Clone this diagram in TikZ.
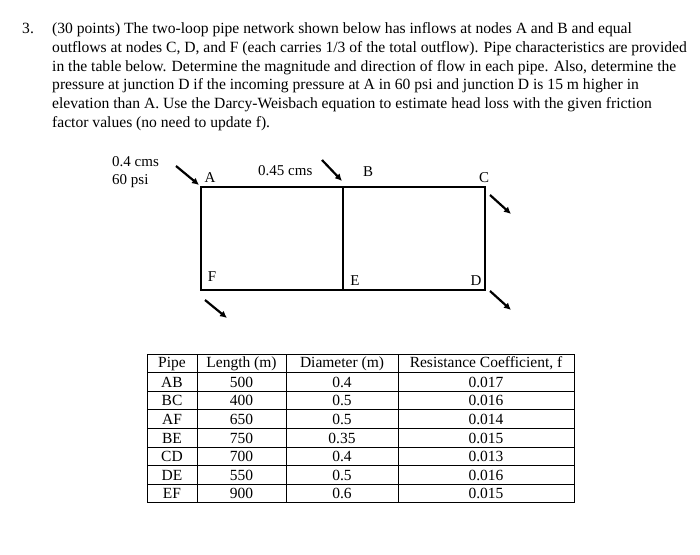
\documentclass[tikz,border=0pt]{standalone}
\usepackage{fontspec}
\setmainfont{Liberation Serif}
\usetikzlibrary{arrows.meta}
\begin{document}
\begin{tikzpicture}[x=1pt,y=-1pt,
  txt/.style={anchor=base west,inner sep=0pt,font=\fontsize{15.6}{17}\selectfont},
  lbl/.style={inner sep=0pt,font=\fontsize{15}{17}\selectfont},
  cell/.style={inner sep=0pt,font=\fontsize{15.5}{17}\selectfont},
  pipe/.style={line width=2pt},
  flow/.style={line width=2.2pt,-{Latex[length=7pt,width=7pt]}}]
\useasboundingbox (0,0) rectangle (700,554);
% paragraph
\node[txt] (n3) at (22,33) {3.};
\node[txt] (l1) at (52,33) {(30 points) The two-loop pipe network shown below has inflows at nodes A and B and equal};
\node[txt] (l2) at (52,52) {outflows at nodes C, D, and F (each carries 1/3 of the total outflow). Pipe characteristics are provided};
\node[txt] (l3) at (52,71) {in the table below. Determine the magnitude and direction of flow in each pipe. Also, determine the};
\node[txt] (l4) at (52,89.5) {pressure at junction D if the incoming pressure at A in 60 psi and junction D is 15 m higher in};
\node[txt] (l5) at (52,108) {elevation than A. Use the Darcy-Weisbach equation to estimate head loss with the given friction};
\node[txt] (l6) at (52,127) {factor values (no need to update f).};
% network
\coordinate (A) at (201,187);
\coordinate (B) at (343,187);
\coordinate (C) at (485,187);
\coordinate (D) at (485,290);
\coordinate (E) at (343,290);
\coordinate (F) at (201,290);
\draw[pipe] (A) -- (C) -- (D) -- (F) -- cycle;
\draw[pipe] (B) -- (E);
\coordinate (ai) at (176,166); \coordinate (ae) at (199,185);
\coordinate (bi) at (322,160); \coordinate (be) at (342,181);
\coordinate (cs) at (490,195); \coordinate (ce) at (511,214);
\coordinate (ds) at (490,291); \coordinate (de) at (511,310);
\coordinate (fs) at (205,300); \coordinate (fe) at (227,318);
\draw[flow] (ai) -- (ae);
\draw[flow] (bi) -- (be);
\draw[flow] (cs) -- (ce);
\draw[flow] (ds) -- (de);
\draw[flow] (fs) -- (fe);
\node[lbl,anchor=west] (q1) at (112,162) {0.4 cms};
\node[lbl,anchor=west] (p1) at (112,181) {60 psi};
\node[lbl,anchor=west] (q2) at (258,171) {0.45 cms};
\node[lbl] (la) at (210,178) {A};
\node[lbl] (lb) at (368,172) {B};
\node[lbl] (lc) at (484,178) {C};
\node[lbl] (lf) at (212,277) {F};
\node[lbl] (le) at (355,281) {E};
\node[lbl] (ld) at (476,281) {D};
% table
\def\rh{18.6}
\foreach \i in {0,...,8} {\draw[line width=0.8pt] (147,354+\i*\rh) -- (574,354+\i*\rh);}
\foreach \x in {147,197,286,398,574} {\draw[line width=0.8pt] (\x,354) -- (\x,354+8*\rh);}
\foreach \p/\l/\d/\f [count=\r from 0] in {Pipe/Length (m)/Diameter (m)/{Resistance Coefficient, f},AB/500/0.4/0.017,BC/400/0.5/0.016,AF/650/0.5/0.014,BE/750/0.35/0.015,CD/700/0.4/0.013,DE/550/0.5/0.016,EF/900/0.6/0.015} {
  \node[cell] (p\r) at (172,354+\r*\rh+9.6) {\p};
  \node[cell] (l\r) at (241.5,354+\r*\rh+9.6) {\l};
  \node[cell] (d\r) at (342,354+\r*\rh+9.6) {\d};
  \node[cell] (f\r) at (486,354+\r*\rh+9.6) {\f};
}
\end{tikzpicture}
\end{document}
